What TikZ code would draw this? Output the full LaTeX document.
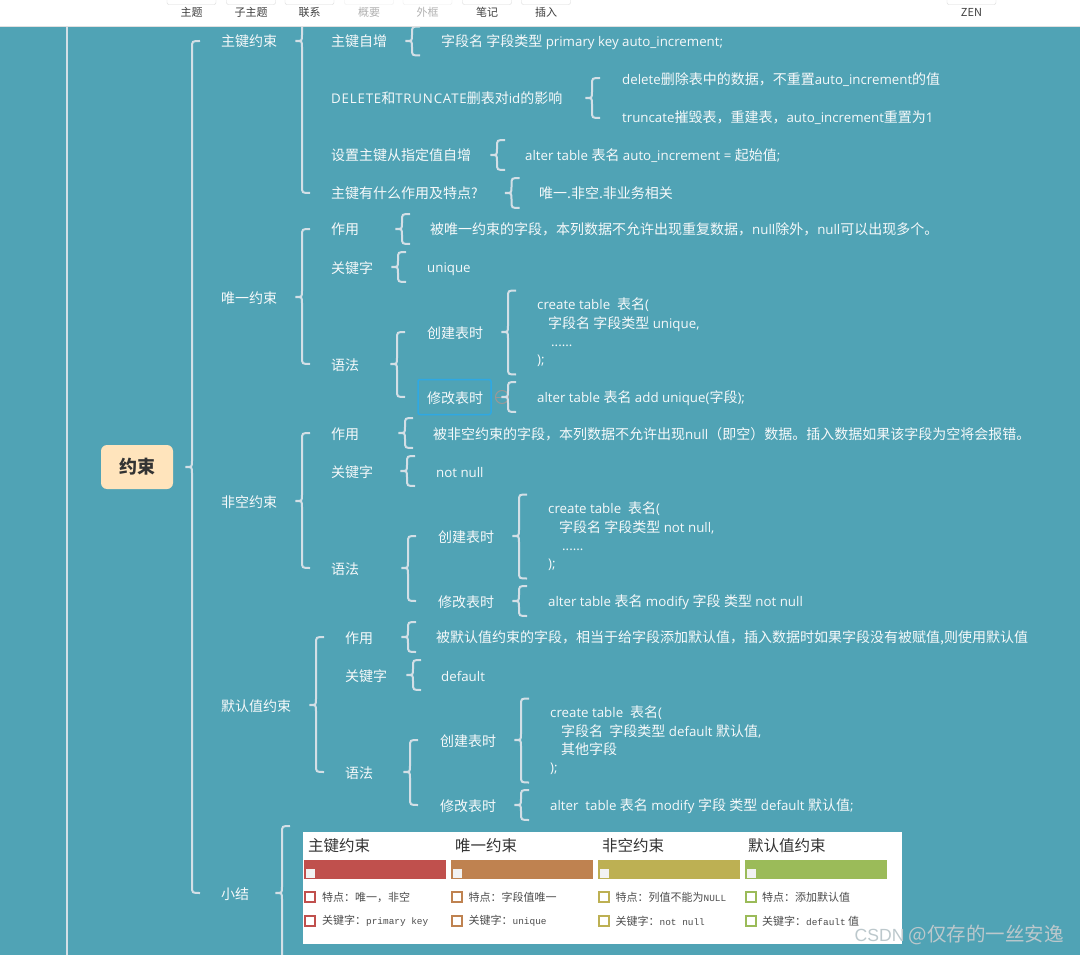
\documentclass[tikz,border=0pt]{standalone}
\usepackage{fontspec}
\setmainfont[Scale=0.95]{Open Sans}
\newfontfamily\cjk{Noto Sans CJK SC}
\newfontfamily\simmono{Liberation Mono}
\newfontfamily\marksans{Liberation Sans}
\newcommand{\cn}[1]{{\cjk #1}}
\newcommand{\wide}[1]{{\addfontfeatures{LetterSpace=6}#1}}
\usetikzlibrary{calc}
\definecolor{bgteal}{HTML}{50A3B5}
\definecolor{txtwhite}{HTML}{F6F9FA}
\definecolor{bracegrey}{HTML}{D3DFE6}
\definecolor{rootfill}{HTML}{FFE4BC}
\definecolor{selblue}{HTML}{2FA8E3}
\definecolor{markgrey}{HTML}{BCC8CC}
\definecolor{pkcol}{HTML}{C0504D}
\definecolor{uqcol}{HTML}{BF8250}
\definecolor{nncol}{HTML}{BDB053}
\definecolor{dfcol}{HTML}{9BBB59}
\tikzstyle{topic} = [anchor=west, inner sep=0pt, text=txtwhite, font=\fontsize{14}{18.4}\selectfont, align=left, execute at begin node={\rule[-2pt]{0pt}{16pt}}]
\tikzstyle{root} = [rectangle, rounded corners=6pt, minimum width=72pt, minimum height=44pt, inner sep=0pt, fill=rootfill, text=black!80, font=\fontsize{18}{20}\selectfont\cjk\bfseries]
\tikzstyle{brace} = [draw=bracegrey, line width=2pt]
\tikzstyle{selbox} = [rectangle, rounded corners=2pt, draw=selblue, line width=1.5pt, minimum width=73pt, minimum height=35pt]
\tikzstyle{fold} = [circle, draw=black!40, line width=1pt, minimum size=13pt, inner sep=0pt]
\tikzstyle{menu} = [inner sep=0pt, text=black!75, font=\fontsize{11}{13}\selectfont\cjk]
\tikzstyle{menuoff} = [menu, text=black!30]
\tikzstyle{menubtn} = [rectangle, rounded corners=2pt, draw=black!15, fill=white, minimum width=49pt, minimum height=8pt, inner sep=0pt]
\tikzstyle{title} = [anchor=west, inner sep=0pt, text=black!80, font=\fontsize{15.5}{18}\selectfont\cjk]
\tikzstyle{bar} = [rectangle, anchor=west, minimum width=142pt, minimum height=19pt, inner sep=0pt]
\tikzstyle{barmark} = [rectangle, fill=white!95!black, minimum size=9pt, inner sep=0pt]
\tikzstyle{check} = [rectangle, line width=2pt, minimum size=10.5pt, inner sep=0pt, fill=white]
\tikzstyle{item} = [anchor=west, inner sep=0pt, text=black!70, font=\fontsize{11}{14}\selectfont\cjk]
\newcommand{\bracelink}[5]{%
  \draw [brace] let \p1=(#1), \p2=(#3), \p3=(#4) in
    ({#2pt+8pt},{\y2+#5pt}) .. controls ({#2pt},{\y2+#5pt}) and ({#2pt},{\y2+#5pt}) .. ({#2pt},{\y2+#5pt-7pt})
    -- ({#2pt},{\y1+6pt}) .. controls ({#2pt},{\y1}) .. ({#2pt-6.5pt},{\y1})
    .. controls ({#2pt},{\y1}) .. ({#2pt},{\y1-6pt})
    -- ({#2pt},{\y3-#5pt+7pt}) .. controls ({#2pt},{\y3-#5pt}) and ({#2pt},{\y3-#5pt}) .. ({#2pt+8pt},{\y3-#5pt});
}
\newcommand{\mono}[1]{{\simmono\fontsize{9.4}{14}\selectfont #1}}
\begin{document}
\begin{tikzpicture}[x=1pt, y=1pt]
\useasboundingbox (0,0) rectangle (1080,-955);
\fill [bgteal] (0,0) rectangle (1080,-955);

\coordinate (railtop) at (66.5,-27);
\coordinate (railend) at (66.5,-955);
\draw [brace] (railtop) -- (railend);

\node (main) [root] at (137,-467) {约束};
\node (pk) [topic] at (221,-41) {\cn{主键约束}};
\node (uq) [topic] at (221,-297) {\cn{唯一约束}};
\node (nn) [topic] at (221,-501) {\cn{非空约束}};
\node (df) [topic] at (221,-705) {\cn{默认值约束}};
\node (sm) [topic] at (221,-893) {\cn{小结}};
\bracelink{main}{192}{pk}{sm}{0}

\node (pkauto) [topic] at (331,-41) {\cn{主键自增}};
\node (pkdel) [topic] at (331,-98) {\wide{DELETE}\cn{和}\wide{TRUNCATE}\cn{删表对}id\cn{的影响}};
\node (pkset) [topic] at (331,-155) {\cn{设置主键从指定值自增}};
\node (pkuse) [topic] at (331,-193) {\cn{主键有什么作用及特点?}};
\coordinate (pkabove) at (331,-15);
\draw [brace] let \p1=(pk), \p2=(pkuse), \p3=(pkabove) in
  (302pt,\y3) -- (302pt,\y1+6pt) .. controls (302pt,\y1) .. (295.5pt,\y1) .. controls (302pt,\y1) .. (302pt,\y1-6pt)
  -- (302pt,\y2+7pt) .. controls (302pt,\y2) and (302pt,\y2) .. (310pt,\y2);

\node (pkautoa) [topic] at (441,-41) {\cn{字段名 字段类型} primary key auto\_increment;};
\node (pkdela) [topic] at (622,-79) {delete\cn{删除表中的数据，不重置}auto\_increment\cn{的值}};
\node (pkdelb) [topic] at (622,-117) {truncate\cn{摧毁表，重建表，}auto\_increment\cn{重置为}1};
\node (pkseta) [topic] at (525,-155) {alter table \cn{表名} auto\_increment = \cn{起始值};};
\node (pkusea) [topic] at (539,-193) {\cn{唯一.非空.非业务相关}};
\bracelink{pkauto}{412}{pkautoa}{pkautoa}{14.5}
\bracelink{pkdel}{592}{pkdela}{pkdelb}{1}
\bracelink{pkset}{497}{pkseta}{pkseta}{15}
\bracelink{pkuse}{511.5}{pkusea}{pkusea}{15}

\node (uqrole) [topic] at (331,-229) {\cn{作用}};
\node (uqkey) [topic] at (331,-267) {\cn{关键字}};
\node (uqsyn) [topic] at (331,-364) {\cn{语法}};
\bracelink{uq}{302}{uqrole}{uqsyn}{0}
\node (uqrolea) [topic] at (430,-229) {\cn{被唯一约束的字段，本列数据不允许出现重复数据，}null\cn{除外，}null\cn{可以出现多个。}};
\node (uqkeya) [topic] at (427,-267) {unique};
\node (uqnew) [topic] at (427,-332) {\cn{创建表时}};
\node (uqalt) [topic] at (427,-397) {\cn{修改表时}};
\node (uqsel) [selbox] at (454.5,-397) {};
\node (uqfold) [fold] at (502,-397) {};
\draw [draw=black!40, line width=1pt] (uqfold.west) -- (uqfold.east);
\bracelink{uqrole}{402}{uqrolea}{uqrolea}{15}
\bracelink{uqkey}{398}{uqkeya}{uqkeya}{15}
\bracelink{uqsyn}{397}{uqnew}{uqalt}{0}
\node (uqnewa) [topic] at (537,-332.5) {create table\ \ \cn{表名}(\\\hspace*{11pt}\cn{字段名 字段类型} unique,\\\hspace*{14pt}......\\);};
\node (uqalta) [topic] at (537,-397) {alter table \cn{表名} add unique(\cn{字段});};
\bracelink{uqnew}{508}{uqnewa}{uqnewa}{42}
\bracelink{uqalt}{508}{uqalta}{uqalta}{15}

\node (nnrole) [topic] at (331,-433) {\cn{作用}};
\node (nnkey) [topic] at (331,-471) {\cn{关键字}};
\node (nnsyn) [topic] at (331,-568) {\cn{语法}};
\bracelink{nn}{302}{nnrole}{nnsyn}{0}
\node (nnrolea) [topic] at (433,-433) {\cn{被非空约束的字段，本列数据不允许出现}null\cn{（即空）数据。插入数据如果该字段为空将会报错。}};
\node (nnkeya) [topic] at (436,-471) {not null};
\node (nnnew) [topic] at (438,-536) {\cn{创建表时}};
\node (nnalt) [topic] at (438,-601) {\cn{修改表时}};
\bracelink{nnrole}{405}{nnrolea}{nnrolea}{15}
\bracelink{nnkey}{407}{nnkeya}{nnkeya}{15}
\bracelink{nnsyn}{408}{nnnew}{nnalt}{0}
\node (nnnewa) [topic] at (548,-536.5) {create table\ \ \cn{表名}(\\\hspace*{11pt}\cn{字段名 字段类型} not null,\\\hspace*{14pt}......\\);};
\node (nnalta) [topic] at (548,-601) {alter table \cn{表名} modify \cn{字段} \cn{类型} not null};
\bracelink{nnnew}{519}{nnnewa}{nnnewa}{42}
\bracelink{nnalt}{519}{nnalta}{nnalta}{15}

\node (dfrole) [topic] at (345,-637) {\cn{作用}};
\node (dfkey) [topic] at (345,-675) {\cn{关键字}};
\node (dfsyn) [topic] at (345,-772) {\cn{语法}};
\bracelink{df}{316}{dfrole}{dfsyn}{0}
\node (dfrolea) [topic] at (436,-637) {\cn{被默认值约束的字段，相当于给字段添加默认值，插入数据时如果字段没有被赋值,则使用默认值}};
\node (dfkeya) [topic] at (441,-675) {default};
\node (dfnew) [topic] at (440,-740) {\cn{创建表时}};
\node (dfalt) [topic] at (440,-805) {\cn{修改表时}};
\bracelink{dfrole}{408}{dfrolea}{dfrolea}{15}
\bracelink{dfkey}{413}{dfkeya}{dfkeya}{15}
\bracelink{dfsyn}{410}{dfnew}{dfalt}{0}
\node (dfnewa) [topic] at (550,-740.5) {create table\ \ \cn{表名}(\\\hspace*{11pt}\cn{字段名 \ 字段类型} default \cn{默认值},\\\hspace*{11pt}\cn{其他字段}\\);};
\node (dfalta) [topic] at (550,-805) {alter\ \ table \cn{表名} modify \cn{字段} \cn{类型} default \cn{默认值};};
\bracelink{dfnew}{521}{dfnewa}{dfnewa}{42}
\bracelink{dfalt}{521}{dfalta}{dfalta}{15}

\coordinate (smtop) at (331,-826);
\coordinate (smbelow) at (331,-975);
\draw [brace] let \p1=(sm), \p2=(smtop), \p3=(smbelow) in
  (290pt,\y2) .. controls (282pt,\y2) and (282pt,\y2) .. (282pt,\y2-7pt)
  -- (282pt,\y1+6pt) .. controls (282pt,\y1) .. (275.5pt,\y1) .. controls (282pt,\y1) .. (282pt,\y1-6pt)
  -- (282pt,\y3);

\node (sheet) [rectangle, fill=white, minimum width=599pt, minimum height=112pt, inner sep=0pt] at (602.5,-888) {};
\node (pkhead) [title] at (308,-846) {主键约束};
\node (uqhead) [title] at (455,-846) {唯一约束};
\node (nnhead) [title] at (602,-846) {非空约束};
\node (dfhead) [title] at (748,-846) {默认值约束};
\node (pkbar) [bar, fill=pkcol] at (304,-869.5) {};
\node (uqbar) [bar, fill=uqcol] at (451,-869.5) {};
\node (nnbar) [bar, fill=nncol] at (598,-869.5) {};
\node (dfbar) [bar, fill=dfcol] at (745,-869.5) {};
\node (pkmark) [barmark] at (310,-873) {};
\node (uqmark) [barmark] at (457,-873) {};
\node (nnmark) [barmark] at (604,-873) {};
\node (dfmark) [barmark] at (751,-873) {};
\node (pkboxa) [check, draw=pkcol] at (310,-897) {};
\node (pkboxb) [check, draw=pkcol] at (310,-921) {};
\node (uqboxa) [check, draw=uqcol] at (457,-897) {};
\node (uqboxb) [check, draw=uqcol] at (457,-921) {};
\node (nnboxa) [check, draw=nncol] at (604,-897) {};
\node (nnboxb) [check, draw=nncol] at (604,-921) {};
\node (dfboxa) [check, draw=dfcol] at (751,-897) {};
\node (dfboxb) [check, draw=dfcol] at (751,-921) {};
\node (pkitema) [item] at (322,-897) {特点：唯一，非空};
\node (pkitemb) [item] at (322,-921) {关键字：\mono{primary key}};
\node (uqitema) [item] at (468.5,-897) {特点：字段值唯一};
\node (uqitemb) [item] at (468.5,-921) {关键字：\mono{unique}};
\node (nnitema) [item] at (615.5,-897) {特点：列值不能为\mono{NULL}};
\node (nnitemb) [item] at (615.5,-921) {关键字：\mono{not null}};
\node (dfitema) [item] at (762,-897) {特点：添加默认值};
\node (dfitemb) [item] at (762,-921) {关键字：\mono{default} 值};

\fill [white] (0,0) rectangle (1080,-26);
\draw [black!12, line width=1.2pt] (0,-26.5) -- (1080,-26.5);
\node (btna) [menubtn] at (191.5,-0.5) {};
\node (btnb) [menubtn] at (251,-0.5) {};
\node (btnc) [menubtn] at (309.5,-0.5) {};
\node (btnd) [menubtn, draw=black!7] at (369,-0.5) {};
\node (btne) [menubtn, draw=black!7] at (427.5,-0.5) {};
\node (btnf) [menubtn] at (487,-0.5) {};
\node (btng) [menubtn] at (546,-0.5) {};
\node (btnh) [menubtn] at (971.5,-0.5) {};
\node (mtopic) [menu] at (191.5,-12) {主题};
\node (msub) [menu] at (251,-12) {子主题};
\node (mlink) [menu] at (309.5,-12) {联系};
\node (msum) [menuoff] at (369,-12) {概要};
\node (mframe) [menuoff] at (427.5,-12) {外框};
\node (mnote) [menu] at (487,-12) {笔记};
\node (minsert) [menu] at (546,-12) {插入};
\node (mzen) [menu] at (971.5,-12) {ZEN};

\node (mark) [anchor=east, inner sep=0pt, text=markgrey, font=\fontsize{19.5}{22}\selectfont\cjk] at (1064,-935) {{\marksans\fontsize{17.6}{22}\selectfont CSDN} @仅存的一丝安逸};
\end{tikzpicture}
\end{document}
